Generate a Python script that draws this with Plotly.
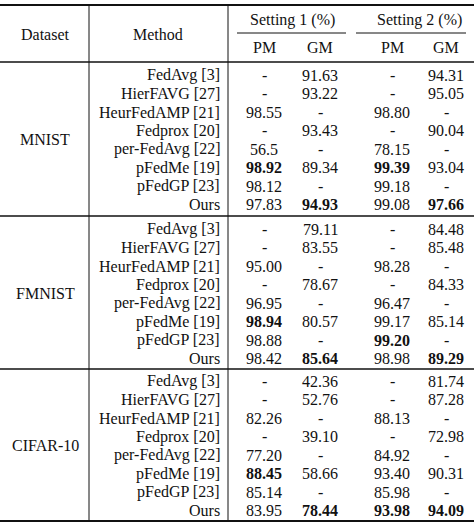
import plotly.graph_objects as go

datasets = ["MNIST", "FMNIST", "CIFAR-10"]
methods = ["FedAvg [3]", "HierFAVG [27]", "HeurFedAMP [21]", "Fedprox [20]",
           "per-FedAvg [22]", "pFedMe [19]", "pFedGP [23]", "Ours"]

# columns: S1 PM, S1 GM, S2 PM, S2 GM  (None -> "-"), "**" marks bold
mnist = [
    [None, "91.63", None, "94.31"],
    [None, "93.22", None, "95.05"],
    ["98.55", None, "98.80", None],
    [None, "93.43", None, "90.04"],
    ["56.5", None, "78.15", None],
    ["**98.92", "89.34", "**99.39", "93.04"],
    ["98.12", None, "99.18", None],
    ["97.83", "**94.93", "99.08", "**97.66"],
]
fmnist = [
    [None, "79.11", None, "84.48"],
    [None, "83.55", None, "85.48"],
    ["95.00", None, "98.28", None],
    [None, "78.67", None, "84.33"],
    ["96.95", None, "96.47", None],
    ["**98.94", "80.57", "99.17", "85.14"],
    ["98.88", None, "**99.20", None],
    ["98.42", "**85.64", "98.98", "**89.29"],
]
cifar = [
    [None, "42.36", None, "81.74"],
    [None, "52.76", None, "87.28"],
    ["82.26", None, "88.13", None],
    [None, "39.10", None, "72.98"],
    ["77.20", None, "84.92", None],
    ["**88.45", "58.66", "93.40", "90.31"],
    ["85.14", None, "85.98", None],
    ["83.95", "**78.44", "**93.98", "**94.09"],
]
tables = [mnist, fmnist, cifar]

FONT = "Liberation Serif"
SZ = 16
col_x = [264, 320, 392, 446]
block_top = [75, 229, 381]
step = 18.55
hlines = [62, 216, 369]

fig = go.Figure()
ann = []
shapes = []

def txt(x, y, s, anchor="center"):
    bold = s.startswith("**")
    s = s.lstrip("*")
    if bold:
        s = "<b>" + s + "</b>"
    ann.append(dict(x=x, y=y, text=s, showarrow=False, xanchor=anchor, yanchor="middle",
                    font=dict(family=FONT, size=SZ, color="#111")))

def line(x0, y0, x1, y1, w=1):
    shapes.append(dict(type="line", x0=x0, y0=y0, x1=x1, y1=y1, line=dict(color="#111", width=w)))

# header
txt(45, 34, "Dataset")
txt(158, 34, "Method")
txt(292, 20, "Setting 1 (%)")
txt(419, 20, "Setting 2 (%)")
for x, h in zip(col_x, ["PM", "GM", "PM", "GM"]):
    txt(x, 47, h)
line(237, 33, 346, 33)
line(356, 33, 466, 33)
line(0, 5, 474, 5, 2)
for y in hlines:
    line(0, y, 474, y, 1.5)
line(0, 521, 474, 521, 2)
line(89, 5, 89, 521)
line(228, 5, 228, 521)

for d, rows, top in zip(datasets, tables, block_top):
    txt(45, top + step * 3.5, d)
    for i, (m, vals) in enumerate(zip(methods, rows)):
        y = top + i * step
        txt(222, y, m, "right")
        for x, v in zip(col_x, vals):
            txt(x, y, v if v is not None else "-")

fig.update_layout(
    width=474, height=529, margin=dict(l=0, r=0, t=0, b=0),
    paper_bgcolor="white", plot_bgcolor="white",
    xaxis=dict(range=[0, 474], visible=False, fixedrange=True),
    yaxis=dict(range=[529, 0], visible=False, fixedrange=True),
    annotations=ann, shapes=shapes, showlegend=False,
)
fig.write_html("out.html", config={"displayModeBar": False},
               post_script="document.body.style.margin='0';document.body.style.overflow='hidden';")
